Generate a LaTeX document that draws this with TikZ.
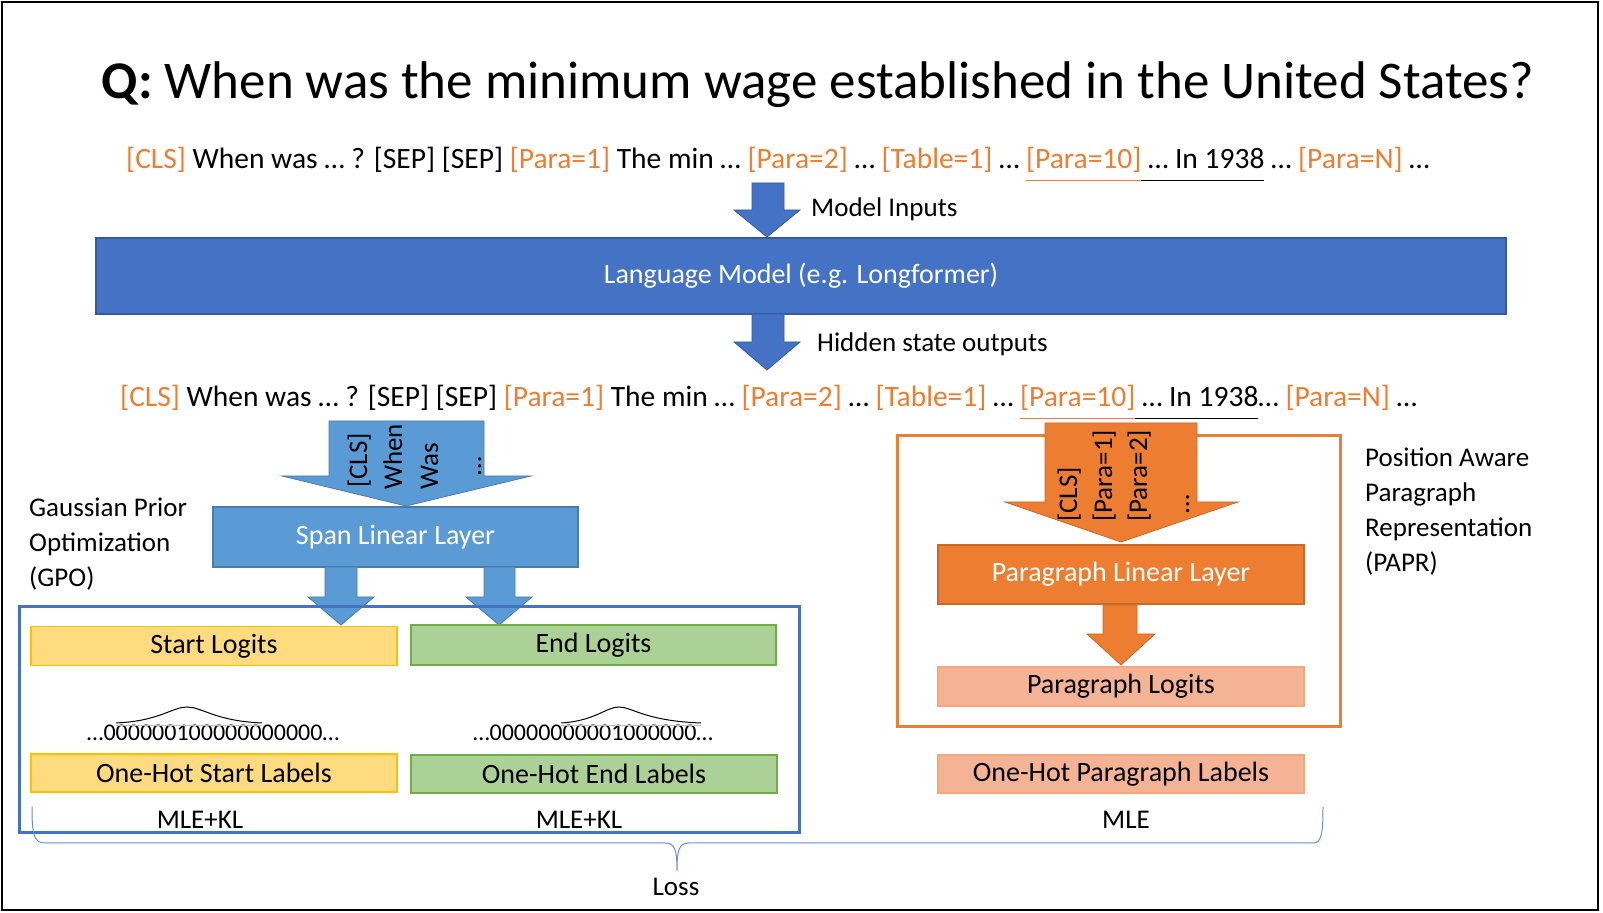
\documentclass[tikz,border=0pt]{standalone}
\usepackage{fontspec}
\setmainfont{Carlito}
\definecolor{orng}{HTML}{ED7D31}
\definecolor{dblue}{HTML}{4472C4}
\definecolor{lblue}{HTML}{5B9BD5}
\definecolor{yelf}{HTML}{FFDB7F}
\definecolor{yeld}{HTML}{FFC000}
\definecolor{grnf}{HTML}{ACD196}
\definecolor{grnd}{HTML}{70AD47}
\definecolor{pchf}{HTML}{F5B396}
\definecolor{pchd}{HTML}{F4A77A}
\newcommand\oc[1]{\textcolor{orng}{#1}}
\begin{document}
\begin{tikzpicture}[x=1pt,y=-1pt,scale=0.5,every node/.append style={transform shape},
  txt/.style={inner sep=0pt,font=\fontsize{29.5}{34}\selectfont},
  lbl/.style={inner sep=0pt,font=\fontsize{27}{35}\selectfont,align=left},
  boxw/.style={inner sep=0pt,text=white,font=\fontsize{28}{32}\selectfont},
  boxk/.style={inner sep=0pt,font=\fontsize{28}{32}\selectfont},
  rot/.style={rotate=90,anchor=base west,inner sep=0pt,font=\fontsize{27}{30}\selectfont},
  arr/.style={line width=0.4pt},
]
\useasboundingbox (0,0) rectangle (1603,913);
\draw[line width=1pt] (2,2) rectangle (1598,910);
\node[inner sep=0pt,anchor=base,font=\fontsize{53}{60}\selectfont] (title) at (818,99) {\textbf{Q:} When was the minimum wage established in the United States?};
\node[txt,anchor=base west] (in) at (126,169) {\oc{[CLS]} When was … ? [SEP] [SEP] \oc{[Para=1]} The min … \oc{[Para=2]} … \oc{[Table=1]} … {\color{orng}\underline{[Para=10]\strut}}\underline{ … In 1938\strut} … \oc{[Para=N]} …};
% arrow 1
\fill[dblue,draw=dblue!80!black,arr] (752,183) -- (784,183) -- (784,210) -- (800,210) -- (767,237) -- (734,210) -- (752,210) -- cycle;
\node[lbl,anchor=base west] (mi) at (811,217) {Model Inputs};
\node[boxw,fill=dblue,draw=dblue!80!black,line width=0.6pt,minimum width=1410,minimum height=76] (lm) at (801,276) {Language Model (e.g. Longformer)};
\fill[dblue,draw=dblue!80!black,arr] (752,314) -- (784,314) -- (784,342) -- (800,342) -- (767,370) -- (734,342) -- (752,342) -- cycle;
\node[lbl,anchor=base west] (hs) at (817,352) {Hidden state outputs};
\node[txt,anchor=base west] (out) at (120,407) {\oc{[CLS]} When was … ? [SEP] [SEP] \oc{[Para=1]} The min … \oc{[Para=2]} … \oc{[Table=1]} … {\color{orng}\underline{[Para=10]\strut}}\underline{ … In 1938\strut}… \oc{[Para=N]} …};
% span arrow
\fill[lblue,draw=lblue!80!black,arr] (329,421) -- (484,421) -- (484,476) -- (531,476) -- (406,506) -- (282,476) -- (329,476) -- cycle;
\node[rot] (t1) at (367,488) {[CLS]};
\node[rot] (t2) at (402,490) {When};
\node[rot] (t3) at (438,490) {Was};
\node[rot] (t4) at (481,476) {…};
\node[lbl,anchor=base west] (gpo) at (29,517) {Gaussian Prior};
\node[lbl,anchor=base west] (gpo2) at (29,552) {Optimization};
\node[lbl,anchor=base west] (gpo3) at (29,587) {(GPO)};
\node[boxw,fill=lblue,draw=lblue!80!black,line width=0.6pt,minimum width=365,minimum height=60] (span) at (395.5,537) {Span Linear Layer};
\fill[lblue,draw=lblue!80!black,arr] (325,567) -- (357,567) -- (357,597) -- (374,597) -- (341,625) -- (308,597) -- (325,597) -- cycle;
\fill[lblue,draw=lblue!80!black,arr] (484,567) -- (515,567) -- (515,597) -- (532,597) -- (499,625) -- (466,597) -- (484,597) -- cycle;
\draw[dblue,line width=1.5pt] (19,607) rectangle (799,833);
\node[boxk,fill=yelf,draw=yeld,line width=0.6pt,minimum width=366,minimum height=39] (sl) at (214,646) {Start Logits};
\node[boxk,fill=grnf,draw=grnd,line width=0.6pt,minimum width=365,minimum height=40] (el) at (593.5,645) {End Logits};
\node[lbl,anchor=base,font=\fontsize{24}{28}\selectfont] (sz) at (213,741) {…000000100000000000…};
\node[lbl,anchor=base,font=\fontsize{24}{28}\selectfont] (ez) at (593,741) {…00000000001000000…};
\draw[black!25,line width=0.4pt] (116,725) -- (262,725);
\draw[black!25,line width=0.4pt] (561,725) -- (701,725);
\draw[line width=0.5pt] (116,723) .. controls (160,721) and (172,707) .. (187,707) .. controls (202,707) and (215,721) .. (262,723);
\draw[line width=0.5pt] (561,723) .. controls (595,721) and (606,707) .. (619,707) .. controls (632,707) and (645,721) .. (701,723);
\node[boxk,fill=yelf,draw=yeld,line width=0.6pt,minimum width=366,minimum height=38] (sol) at (214,773) {One-Hot Start Labels};
\node[boxk,fill=grnf,draw=grnd,line width=0.6pt,minimum width=366,minimum height=38] (eol) at (594,774) {One-Hot End Labels};
\node[lbl,anchor=base] (m1) at (200,829) {MLE+KL};
\node[lbl,anchor=base] (m2) at (579,829) {MLE+KL};
% PAPR
\draw[orng,line width=1.5pt] (1045,436) -- (897,436) -- (897,727) -- (1340,727) -- (1340,436) -- (1197,436);
\fill[orng,draw=orng!85!black,arr] (1045,423) -- (1197,423) -- (1197,502) -- (1238,502) -- (1121,542) -- (1005,502) -- (1045,502) -- cycle;
\node[rot] (p1) at (1077,522) {[CLS]};
\node[rot] (p2) at (1112,522) {[Para=1]};
\node[rot] (p3) at (1147,522) {[Para=2]};
\node[rot] (p4) at (1189,514) {…};
\node[boxw,fill=orng,draw=orng!85!black,line width=0.6pt,minimum width=366,minimum height=59] (pll) at (1121,574.5) {Paragraph Linear Layer};
\fill[orng,draw=orng!85!black,arr] (1103,605) -- (1137,605) -- (1137,634) -- (1155,634) -- (1121,665) -- (1087,634) -- (1103,634) -- cycle;
\node[boxk,fill=pchf,draw=pchd,line width=0.6pt,minimum width=366,minimum height=39] (pl) at (1121,686.5) {Paragraph Logits};
\node[boxk,fill=pchf,draw=pchd,line width=0.6pt,minimum width=366,minimum height=38] (pol) at (1121,774) {One-Hot Paragraph Labels};
\node[lbl,anchor=base] (m3) at (1126,829) {MLE};
\node[lbl,anchor=base west] (papr) at (1365,467) {Position Aware};
\node[lbl,anchor=base west] (papr2) at (1365,502) {Paragraph};
\node[lbl,anchor=base west] (papr3) at (1365,537) {Representation};
\node[lbl,anchor=base west] (papr4) at (1365,572) {(PAPR)};
% brace
\draw[dblue!80,line width=0.5pt] (32,807) .. controls (32,835) and (34,843) .. (45,843) -- (665,843) .. controls (675,843) and (677,850) .. (677,871) .. controls (677,850) and (679,843) .. (689,843) -- (1313,843) .. controls (1321,843) and (1323,835) .. (1323,807);
\node[lbl,anchor=base] (loss) at (676,896) {Loss};
\end{tikzpicture}
\end{document}
